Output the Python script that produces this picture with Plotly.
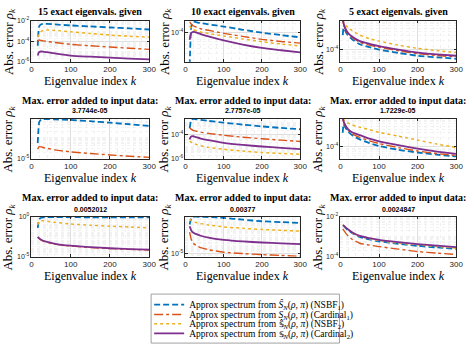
import plotly.graph_objects as go

W, H = 474, 350

# ---------------- data ----------------
k_c1 = [16, 18, 20, 25, 30, 40, 60, 100, 150, 200, 250, 300]
k_c2 = [11, 12, 14, 16, 20, 25, 30, 40, 60, 100, 150, 200, 250, 300]
k_c3 = [6, 8, 10, 15, 20, 30, 50, 75, 100, 150, 200, 250, 300]

series_names = [
    "Approx spectrum from <i>Ŝ<sub>N</sub></i>(<i>ρ</i>, <i>π</i>) (NSBF<sub>1</sub>)",
    "Approx spectrum from <i>S<sub>N</sub></i>(<i>ρ</i>, <i>π</i>) (Cardinal<sub>1</sub>)",
    "Approx spectrum from 𝕤̂<sub><i>N</i></sub>(<i>ρ</i>, <i>π</i>) (NSBF<sub>2</sub>)",
    "Approx spectrum from 𝕤<sub><i>N</i></sub>(<i>ρ</i>, <i>π</i>) (Cardinal<sub>2</sub>)",
]

row1_titles = ["15 exact eigenvals. given", "10 exact eigenvals. given", "5 exact eigenvals. given"]
noise_title = "Max. error added to input data:"
row2_noise = ["3.7744e-05", "2.7757e-05", "1.7229e-05"]
row3_noise = ["0.0052012", "0.00377", "0.0024847"]
x_label = "Eigenvalue index <i>k</i>"
y_label = "Abs. error <i>ρ<sub>k</sub></i>"
x_ticks = [0, 100, 200, 300]

# row 1
blue_r1c1 = [3.6e-5, 8e-4, 3e-3, 4.6e-3, 5e-3, 5e-3, 4.4e-3, 3.5e-3, 2.8e-3, 2.2e-3, 1.8e-3, 1.4e-3]
orange_r1c1 = [9e-5, 1.2e-4, 1.3e-4, 1.2e-4, 1.1e-4, 9.5e-5, 7.5e-5, 5e-5, 3.6e-5, 2.7e-5, 2.1e-5, 1.6e-5]
yellow_r1c1 = [2.5e-4, 4e-4, 6e-4, 9e-4, 1.1e-3, 1.25e-3, 1.15e-3, 8.5e-4, 5.8e-4, 4e-4, 3.1e-4, 2.5e-4]
purple_r1c1 = [4e-6, 7e-6, 9e-6, 1e-5, 9.5e-6, 8.5e-6, 6.5e-6, 4e-6, 3.1e-6, 2.5e-6, 2e-6, 1.7e-6]

blue_r1c2 = [8e-6, 2e-5, 1e-4, 1.8e-4, 2.3e-4, 2.3e-4, 2.2e-4, 2.1e-4, 1.9e-4, 1.6e-4, 1.25e-4, 1e-4, 8.3e-5, 7e-5]
orange_r1c2 = [2.3e-4, 2.2e-4, 2e-4, 1.9e-4, 1.7e-4, 1.6e-4, 1.5e-4, 1.35e-4, 1.2e-4, 9.5e-5, 7.5e-5, 6e-5, 5.1e-5, 4.5e-5]
yellow_r1c2 = [1.7e-4, 1.6e-4, 1.5e-4, 1.4e-4, 1.3e-4, 1.2e-4, 1.15e-4, 1.05e-4, 9.3e-5, 7.8e-5, 6.2e-5, 5e-5, 4.2e-5, 3.6e-5]
purple_r1c2 = [5.8e-5, 7e-5, 9e-5, 1e-4, 1.07e-4, 1.05e-4, 1e-4, 9e-5, 7.5e-5, 5.5e-5, 4e-5, 3.1e-5, 2.6e-5, 2.2e-5]

blue_r1c3 = [3e-4, 5e-4, 4.7e-4, 3.6e-4, 2.9e-4, 2.2e-4, 1.5e-4, 1.2e-4, 1e-4, 7.8e-5, 6.3e-5, 5.6e-5, 5e-5]
orange_r1c3 = [9e-4, 7e-4, 5.6e-4, 4e-4, 3.2e-4, 2.5e-4, 1.75e-4, 1.4e-4, 1.2e-4, 9.2e-5, 7.4e-5, 6.4e-5, 5.8e-5]
yellow_r1c3 = [9.5e-4, 8.5e-4, 7.5e-4, 6e-4, 5.2e-4, 4.2e-4, 3e-4, 2.3e-4, 1.9e-4, 1.4e-4, 1.1e-4, 9.3e-5, 8e-5]
purple_r1c3 = [9.5e-4, 7.5e-4, 6e-4, 4.3e-4, 3.5e-4, 2.7e-4, 1.9e-4, 1.55e-4, 1.3e-4, 1e-4, 8e-5, 7e-5, 6.3e-5]

# row 2
blue_r2c1 = [5.5e-5, 2.5e-4, 5.5e-4, 7.2e-4, 7.6e-4, 7.6e-4, 7.3e-4, 6.9e-4, 6e-4, 5.1e-4, 4.3e-4, 3.6e-4]
orange_r2c1 = [2.8e-5, 3.4e-5, 3.7e-5, 3.6e-5, 3.4e-5, 3.1e-5, 2.6e-5, 2.1e-5, 1.75e-5, 1.5e-5, 1.3e-5, 1.15e-5]
yellow_r2c1 = [3e-6, 4.5e-6, 5.5e-6, 6.5e-6, 7e-6, 7e-6, 6.3e-6, 5e-6, 3.8e-6, 3e-6, 2.5e-6, 2.1e-6]
purple_r2c1 = [2e-7, 3.5e-7, 4.5e-7, 5e-7, 4.8e-7, 4.3e-7, 3.4e-7, 2.3e-7, 1.7e-7, 1.3e-7, 1.1e-7, 9e-8]

blue_r2c2 = [3.2e-4, 5e-4, 1.2e-3, 1.6e-3, 1.8e-3, 1.75e-3, 1.65e-3, 1.5e-3, 1.25e-3, 9e-4, 6.2e-4, 4.4e-4, 3.3e-4, 2.6e-4]
orange_r2c2 = [3.3e-4, 3.1e-4, 2.8e-4, 2.5e-4, 2.1e-4, 1.9e-4, 1.75e-4, 1.5e-4, 1.2e-4, 8.3e-5, 5.8e-5, 4.3e-5, 3.3e-5, 2.6e-5]
yellow_r2c2 = [2.7e-5, 2.6e-5, 2.4e-5, 2.2e-5, 1.9e-5, 1.6e-5, 1.4e-5, 1.15e-5, 8.5e-6, 5.9e-6, 4.2e-6, 3.2e-6, 2.7e-6, 2.3e-6]
purple_r2c2 = [3.7e-5, 4.8e-5, 6.2e-5, 6.8e-5, 6.9e-5, 6.2e-5, 5.5e-5, 4.5e-5, 3.3e-5, 2e-5, 1.35e-5, 1e-5, 7.8e-6, 6e-6]

blue_r2c3 = [3e-4, 5.8e-4, 5.2e-4, 4e-4, 3.3e-4, 2.5e-4, 1.8e-4, 1.35e-4, 1.07e-4, 8e-5, 6.5e-5, 5.5e-5, 4.8e-5]
orange_r2c3 = [8.5e-4, 7e-4, 5.8e-4, 4.4e-4, 3.6e-4, 2.8e-4, 2.1e-4, 1.6e-4, 1.3e-4, 9.5e-5, 7.3e-5, 6e-5, 5.2e-5]
yellow_r2c3 = [9e-4, 8.5e-4, 8e-4, 7e-4, 6.3e-4, 5.5e-4, 4.6e-4, 3.8e-4, 3.1e-4, 2.3e-4, 1.7e-4, 1.25e-4, 9.5e-5]
purple_r2c3 = [9e-4, 7.5e-4, 6.3e-4, 4.8e-4, 3.9e-4, 3.1e-4, 2.5e-4, 1.9e-4, 1.55e-4, 1.15e-4, 8.7e-5, 7e-5, 5.8e-5]

# row 3
blue_r3c1 = [4e-2, 0.2, 0.5, 0.75, 0.85, 0.9, 0.9, 0.88, 0.86, 0.85, 0.84, 0.83]
orange_r3c1 = [2.7e-3, 2.2e-3, 1.8e-3, 1.2e-3, 9e-4, 6.3e-4, 3.8e-4, 2.2e-4, 1.45e-4, 1.05e-4, 8.4e-5, 7.1e-5]
yellow_r3c1 = [0.1, 0.2, 0.28, 0.32, 0.31, 0.27, 0.2, 0.126, 0.088, 0.066, 0.052, 0.042]
purple_r3c1 = [3e-3, 2.5e-3, 2e-3, 1.3e-3, 1e-3, 7e-4, 4.2e-4, 2.4e-4, 1.6e-4, 1.15e-4, 9.2e-5, 7.8e-5]

blue_r3c2 = [4.5e-2, 8e-2, 0.18, 0.3, 0.4, 0.42, 0.42, 0.41, 0.38, 0.3, 0.18, 0.115, 0.09, 0.072]
orange_r3c2 = [5e-3, 2.8e-3, 1e-3, 5e-4, 2.2e-4, 1.4e-4, 1e-4, 6e-5, 3.3e-5, 1.6e-5, 1.1e-5, 8.1e-6, 6.3e-6, 5.1e-6]
yellow_r3c2 = [0.22, 0.2, 0.16, 0.13, 0.1, 0.085, 0.072, 0.058, 0.04, 0.023, 0.015, 0.011, 8.5e-3, 6.9e-3]
purple_r3c2 = [2.8e-2, 2e-2, 1.1e-2, 7e-3, 4.5e-3, 3.3e-3, 2.7e-3, 1.8e-3, 1.05e-3, 5.5e-4, 3.5e-4, 2.6e-4, 2e-4, 1.65e-4]

blue_r3c3 = [3.5e-3, 3.5e-3, 3.2e-3, 2.6e-3, 2.15e-3, 1.55e-3, 9.8e-4, 7.3e-4, 5.9e-4, 4.4e-4, 3.5e-4, 2.9e-4, 2.45e-4]
orange_r3c3 = [2.5e-3, 2.2e-3, 1.9e-3, 1.4e-3, 1.1e-3, 7.5e-4, 4.7e-4, 3.8e-4, 3.2e-4, 2.4e-4, 1.8e-4, 1.5e-4, 1.3e-4]
yellow_r3c3 = [3.7e-3, 3.6e-3, 3.3e-3, 2.7e-3, 2.25e-3, 1.6e-3, 1.05e-3, 7.9e-4, 6.4e-4, 4.8e-4, 3.9e-4, 3.2e-4, 2.7e-4]
purple_r3c3 = [3.8e-3, 3.7e-3, 3.4e-3, 2.8e-3, 2.35e-3, 1.7e-3, 1.1e-3, 8.5e-4, 6.9e-4, 5.3e-4, 4.3e-4, 3.6e-4, 3e-4]

# y-axis (log10) limits and labelled ticks per panel
y_ranges = [[-6.01, -1.99], [-4.97, -3.6], [-4.4, -3.05],
            [-5.01, -3.1], [-6.01, -2.72], [-4.4, -3.05],
            [-5.01, 0.01], [-5.37, -0.37], [-4.01, -1.99]]
y_tick_exps = [[-6, -4, -2], [-4], [-4],
               [-5], [-6, -4], [-4],
               [-5, 0], [-5], [-4, -2]]

# ---------------- layout helpers ----------------
def px(x):
    return x / W

def py(y):
    return 1 - y / H

col_px = [(30, 150), (187, 304), (345, 463)]
row_px = [(17, 59), (117, 158), (217, 258)]

k_cols = [k_c1, k_c2, k_c3]
panels = [
    [blue_r1c1, orange_r1c1, yellow_r1c1, purple_r1c1],
    [blue_r1c2, orange_r1c2, yellow_r1c2, purple_r1c2],
    [blue_r1c3, orange_r1c3, yellow_r1c3, purple_r1c3],
    [blue_r2c1, orange_r2c1, yellow_r2c1, purple_r2c1],
    [blue_r2c2, orange_r2c2, yellow_r2c2, purple_r2c2],
    [blue_r2c3, orange_r2c3, yellow_r2c3, purple_r2c3],
    [blue_r3c1, orange_r3c1, yellow_r3c1, purple_r3c1],
    [blue_r3c2, orange_r3c2, yellow_r3c2, purple_r3c2],
    [blue_r3c3, orange_r3c3, yellow_r3c3, purple_r3c3],
]

colors = ["#0072BD", "#D95319", "#EDB120", "#7E2F8E"]
dashes = ["6px,3px", "dashdot", "dot", "solid"]
widths = [1.8, 1.4, 1.5, 1.8]
legend_ids = ["legend", "legend2", "legend", "legend2"]

SERIF = "Liberation Serif"
SANS = "Liberation Sans"
AXC = "#262626"

fig = go.Figure()
layout = dict(
    width=W, height=H,
    margin=dict(l=0, r=0, t=0, b=0),
    paper_bgcolor="white", plot_bgcolor="white",
    showlegend=True,
)

minor_y = [m * 10.0 ** e for e in range(-8, 1) for m in range(1, 10)]
minor_x = list(range(0, 301, 20))

for i in range(9):
    r, c = divmod(i, 3)
    n = i + 1
    xa = "x" if n == 1 else f"x{n}"
    ya = "y" if n == 1 else f"y{n}"
    for s in range(4):
        fig.add_trace(go.Scatter(
            x=k_cols[c], y=panels[i][s], xaxis=xa, yaxis=ya,
            mode="lines", name=series_names[s],
            line=dict(color=colors[s], dash=dashes[s], width=widths[s], shape="spline", smoothing=0.6),
            showlegend=(i == 0), legend=legend_ids[s],
            hoverinfo="skip",
        ))
    x0, x1 = col_px[c]
    y0, y1 = row_px[r]
    layout["xaxis" if n == 1 else f"xaxis{n}"] = dict(
        domain=[px(x0), px(x1)], anchor=ya, range=[0, 300],
        tickmode="array", tickvals=x_ticks, ticktext=[str(v) for v in x_ticks],
        ticks="inside", ticklen=2.5, tickcolor=AXC, tickwidth=0.6,
        showline=True, linecolor=AXC, linewidth=0.7, mirror="ticks",
        showgrid=True, gridcolor="#e0e0e0", gridwidth=0.6,
        minor=dict(tickvals=minor_x, showgrid=True, gridcolor="#f0f0f0", griddash="dot", gridwidth=0.6, ticks=""),
        tickfont=dict(family=SANS, size=8, color=AXC),
        zeroline=False, fixedrange=True,
    )
    exps = y_tick_exps[i]
    layout["yaxis" if n == 1 else f"yaxis{n}"] = dict(
        domain=[py(y1), py(y0)], anchor=xa, type="log", range=y_ranges[i],
        tickmode="array", tickvals=[10.0 ** e for e in exps],
        ticktext=[f"10<sup>{e}</sup>" for e in exps],
        ticks="inside", ticklen=2.5, tickcolor=AXC, tickwidth=0.6,
        showline=True, linecolor=AXC, linewidth=0.7, mirror="ticks",
        showgrid=True, gridcolor="#e0e0e0", gridwidth=0.6,
        minor=dict(tickvals=minor_y, showgrid=True, gridcolor="#f2f2f2", griddash="dot", gridwidth=0.5, ticks=""),
        tickfont=dict(family=SANS, size=7, color=AXC),
        zeroline=False, fixedrange=True,
    )

annotations = []

def add_text(text, x, y, size, family=SERIF, weight="normal", angle=0):
    annotations.append(dict(
        text=text, x=px(x), y=py(y), xref="paper", yref="paper",
        xanchor="center", yanchor="middle", showarrow=False, textangle=angle,
        borderpad=0,
        font=dict(family=family, size=size, color="black", weight=weight),
    ))

col_centers = [(a + b) / 2 for a, b in col_px]
row_centers = [(a + b) / 2 for a, b in row_px]
xlabel_y = [78.5, 178, 278]
ylabel_x = [7, 166, 323]

for c in range(3):
    add_text(row1_titles[c], col_centers[c], 8, 10, weight="bold")
    add_text(noise_title, col_centers[c], 98, 10, weight="bold")
    add_text(row2_noise[c], col_centers[c], 109, 7, family=SANS, weight="bold")
    add_text(noise_title, col_centers[c], 197, 10, weight="bold")
    add_text(row3_noise[c], col_centers[c], 210, 7, family=SANS, weight="bold")
    for r in range(3):
        add_text(x_label, col_centers[c], xlabel_y[r], 12)
        add_text(y_label, ylabel_x[c], row_centers[r], 13, angle=-90)

layout["annotations"] = annotations

legend_font = dict(family=SERIF, size=9.5, color="black")
layout["legend"] = dict(x=px(150), y=py(292), xanchor="left", yanchor="top",
                        bgcolor="rgba(0,0,0,0)", borderwidth=0, font=legend_font,
                        tracegroupgap=0, itemwidth=30)
layout["legend2"] = dict(x=px(150), y=py(302), xanchor="left", yanchor="top",
                         bgcolor="rgba(0,0,0,0)", borderwidth=0, font=legend_font,
                         tracegroupgap=0, itemwidth=30)
layout["shapes"] = [dict(type="rect", xref="paper", yref="paper",
                         x0=px(152), x1=px(344), y0=py(346), y1=py(296),
                         line=dict(color="#8a8a8a", width=0.8), fillcolor="white", layer="below")]

fig.update_layout(**layout)
fig.write_html("out.html")
